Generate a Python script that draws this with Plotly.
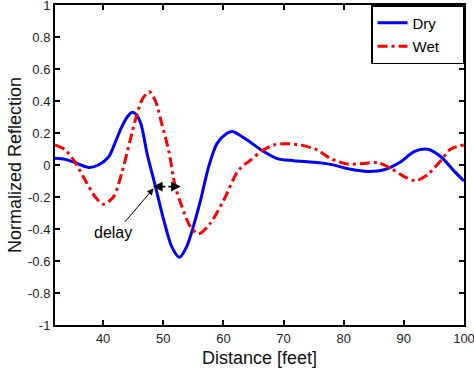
import plotly.graph_objects as go

# ---- data ----
dist_dry = [32, 33.7, 35.3, 37.55, 39.2, 40.9, 42, 43, 44, 44.85, 45.5, 46.3, 47.3, 48.7,
            50.05, 51.4, 52.7, 53.9, 54.8, 56.2, 57.55, 58.95, 60.6, 61.5, 63.95, 66.45,
            68.95, 71.7, 75.05, 77.8, 81.2, 84, 86.7, 89.5, 91.7, 93.95, 96.2, 98.4, 100]
refl_dry = [0.042, 0.035, 0.015, -0.015, 0.0, 0.05, 0.14, 0.23, 0.30, 0.33, 0.315, 0.255,
            0.073, -0.135, -0.34, -0.51, -0.577, -0.51, -0.41, -0.22, -0.01, 0.135, 0.198,
            0.21, 0.156, 0.09, 0.04, 0.027, 0.017, 0.004, -0.027, -0.04, -0.03, 0.02, 0.083,
            0.098, 0.05, -0.04, -0.10]

dist_wet = [32, 33.7, 35.3, 37, 38.7, 40.05, 41.7, 43.1, 44.5, 45.5, 46.5, 47.67, 48.7,
            49.8, 50.9, 52, 53.1, 54.5, 55.9, 57.8, 60.05, 62.55, 64.5, 66.45, 68.4, 70.3,
            72.8, 75.6, 77.8, 80.6, 83.4, 85.6, 87.8, 90.05, 92, 93.95, 96.2, 97.8, 100]
refl_wet = [0.125, 0.094, 0.02, -0.094, -0.2, -0.245, -0.2, -0.05, 0.156, 0.3, 0.41, 0.458,
            0.40, 0.25, 0.09, -0.135, -0.26, -0.385, -0.43, -0.365, -0.22, -0.03, 0.03,
            0.09, 0.125, 0.133, 0.125, 0.094, 0.04, 0.006, 0.01, 0.015, -0.02, -0.073,
            -0.098, -0.06, 0.03, 0.10, 0.125]

x_ticks = [40, 50, 60, 70, 80, 90, 100]
y_ticks = [1, 0.8, 0.6, 0.4, 0.2, 0, -0.2, -0.4, -0.6, -0.8, -1]
y_tick_labels = ["1", "0.8", "0.6", "0.4", "0.2", "0", "-0.2", "-0.4", "-0.6", "-0.8", "-1"]

x_title = "Distance [feet]"
y_title = "Normalized Reflection"

FONT = "Liberation Sans, Arial, sans-serif"
NBSP = "\u00a0"

fig = go.Figure()
fig.add_trace(go.Scatter(x=dist_dry, y=refl_dry, mode="lines", name="Dry" + NBSP * 5,
                         legendgroup="a",
                         line=dict(color="#0000ff", width=3, shape="spline", smoothing=0.8)))
fig.add_trace(go.Scatter(x=dist_wet, y=refl_wet, mode="lines", name="Wet" + NBSP * 4,
                         legendgroup="b",
                         line=dict(color="#ff0000", width=3, shape="spline", smoothing=0.8,
                                   dash="10px,4px,3px,4px")))

# axis titles (placed as text)
fig.add_annotation(xref="paper", yref="paper", x=0.5, y=0, yshift=-33, yanchor="middle",
                   text=x_title, showarrow=False,
                   font=dict(family=FONT, size=18, color="#111111"))
fig.add_annotation(xref="paper", yref="paper", x=0, y=0.5, xshift=-40, xanchor="center",
                   textangle=-90, text=y_title, showarrow=False,
                   font=dict(family=FONT, size=18, color="#111111"))

# delay annotations
fig.add_annotation(x=41.7, y=-0.42, text="delay", showarrow=False,
                   font=dict(family=FONT, size=16, color="black"))
fig.add_annotation(x=48.4, y=-0.146, ax=43.4, ay=-0.365, axref="x", ayref="y",
                   text="", showarrow=True, arrowhead=2, arrowsize=1.3, arrowwidth=1,
                   arrowcolor="black")
fig.add_annotation(x=48.3, y=-0.135, ax=50.6, ay=-0.135, axref="x", ayref="y",
                   text="", showarrow=True, arrowhead=2, arrowsize=1.2, arrowwidth=1.6,
                   arrowcolor="black")
fig.add_annotation(x=52.9, y=-0.135, ax=50.6, ay=-0.135, axref="x", ayref="y",
                   text="", showarrow=True, arrowhead=2, arrowsize=1.2, arrowwidth=1.6,
                   arrowcolor="black")

axis_common = dict(showline=True, linecolor="black", linewidth=2, mirror="ticks",
                   ticks="inside", ticklen=5, tickwidth=1.5, tickcolor="black",
                   showgrid=False, zeroline=False, automargin=False,
                   ticklabeloverflow="allow",
                   tickfont=dict(family=FONT, size=13, color="#222222"))

fig.update_xaxes(range=[32, 100], tickvals=x_ticks, **axis_common)
fig.update_yaxes(range=[-1, 1], tickvals=y_ticks, ticktext=y_tick_labels, **axis_common)

fig.update_layout(
    width=474, height=392,
    margin=dict(l=55, r=10, t=5, b=67, autoexpand=False),
    paper_bgcolor="white", plot_bgcolor="white",
    font=dict(family=FONT, color="black"),
    showlegend=True,
    legend=dict(x=1, y=1, xanchor="right", yanchor="top",
                bgcolor="white", bordercolor="black", borderwidth=1.5,
                font=dict(family=FONT, size=15, color="black"),
                tracegroupgap=1, itemwidth=30),
)

fig.write_html("out.html", config={"displayModeBar": False},
               post_script="document.body.style.margin='0';document.body.style.overflow='hidden';")
